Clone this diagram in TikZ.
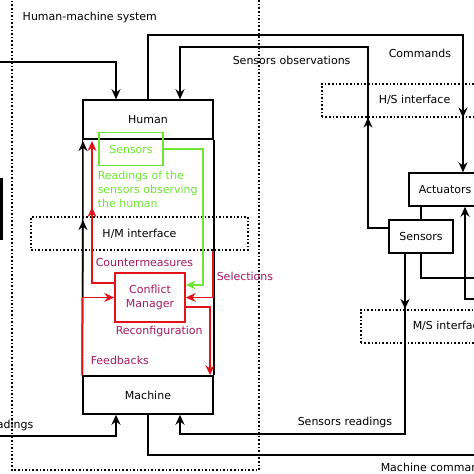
\documentclass[tikz,border=0pt]{standalone}
\usepackage{fontspec}
\setmainfont{DejaVu Sans}
\usetikzlibrary{arrows.meta}
\definecolor{cmred}{RGB}{225,20,25}
\definecolor{cmtext}{RGB}{165,25,95}
\definecolor{sensgreen}{RGB}{110,230,50}
\begin{document}
\begin{tikzpicture}[x=1pt, y=-1pt, font=\fontsize{11}{14}\selectfont,
    line width=1.5pt, >={Stealth[length=10pt,width=9pt]},
    block/.style={draw, inner sep=0pt},
    iface/.style={draw, dotted, line width=1.6pt, inner sep=0pt},
    txt/.style={inner sep=0pt, anchor=west}]
    \useasboundingbox (0,0) rectangle (474,474);
    \clip (0,0) rectangle (474,474);

    % Human-machine system
    \draw[dotted, line width=1.6pt] (12,-10) rectangle (259,470);
    \node[txt] (hmsys) at (22,17) {Human-machine system};

    % Human and machine blocks
    \node[block, minimum width=130pt, minimum height=39pt] (human) at (148,119.5) {Human};
    \node[block, minimum width=130pt, minimum height=38pt] (machine) at (148,395) {Machine};
    \draw (human.south west) -- (machine.north west);
    \draw (human.south east) -- (machine.north east);
    \draw[->] (machine.north west) -- (83,220);
    \draw[->] (machine.north west) -- (83,141);

    % Interfaces
    \node[iface, minimum width=217pt, minimum height=33pt] (hmif) at (139.5,233.5) {H/M interface};
    \node[iface, minimum width=200pt, minimum height=33pt, anchor=north west] (hsif) at (321,83) {};
    \node[txt] (hslabel) at (378,99.5) {H/S interface};
    \node[iface, minimum width=200pt, minimum height=33pt, anchor=north west] (msif) at (360,309) {};
    \node[txt] (mslabel) at (412,325.5) {M/S interface};

    % Conflict manager and human sensors
    \node[block, draw=cmred, text=cmtext, minimum width=70pt, minimum height=49pt, align=center] (cm) at (150,297.5) {Conflict\\Manager};
    \node[block, draw=sensgreen, text=sensgreen, minimum width=64pt, minimum height=33pt] (gsens) at (131,149) {Sensors};
    \node[txt, text=sensgreen, align=left] (gread) at (97,189) {Readings of the\\sensors observing\\the human};
    \draw[sensgreen, ->] (gsens.east) -| (203,285) -- (cm.east |- 0,285);

    % Red loops round the conflict manager
    \draw[cmred, ->] (cm.west |- 0,283) -| (92,207);
    \draw[cmred, ->] (cm.west |- 0,283) -| (92,141);
    \node[txt, text=cmtext] (cmeas) at (95,262) {Countermeasures};
    \draw[cmred, ->] (hmif.south -| 213,0) |- (cm.east);
    \node[txt, text=cmtext] (sel) at (216,276) {Selections};
    \draw[cmred, ->] (machine.north west) |- (cm.west);
    \node[txt, text=cmtext] (feed) at (90,360) {Feedbacks};
    \draw[cmred, ->] (cm.east |- 0,307) -| (machine.north -| 210,0);
    \node[txt, text=cmtext] (reconf) at (115,331) {Reconfiguration};

    % Actuators and sensors of the system
    \node[block, minimum height=33pt, inner xsep=10pt, anchor=west] (act) at (408,189.5) {Actuators};
    \node[block, minimum width=64pt, minimum height=33pt] (rsens) at (421,236.5) {Sensors};
    \draw (rsens.north) -- (rsens.north |- act.south);
    \draw (rsens.south) |- (480,278);
    \draw[->] (480,299) -| (act.south -| 465,0);

    % Commands
    \draw[->] (human.north -| 148,0) |- (463,35) -- (act.north -| 463,0);
    \draw[->] (463,35) -- (hsif.south -| 463,0);
    \node[txt] (cmds) at (388,53) {Commands};

    % Sensors observations
    \draw[->] (rsens.west |- 0,228) -| (368,47) -| (human.north -| 180,0);
    \draw[->] (rsens.west |- 0,228) -| (hsif.south -| 368,0);
    \node[txt] (sobs) at (232,60) {Sensors observations};

    % Sensors readings
    \draw[->] (rsens.south -| 405,0) -- (405,434) -| (machine.south -| 180,0);
    \draw[->] (rsens.south -| 405,0) -- (msif.north -| 405,0);
    \node[txt] (sread) at (297,422) {Sensors readings};

    % Machine commands
    \draw (machine.south -| 148,0) |- (480,455);
    \node[txt] (mcmds) at (380,467) {Machine commands};

    % Links leaving the picture on the left
    \draw[->] (0,62) -| (human.north -| 116,0);
    \draw[->] (0,436) -| (machine.south -| 116,0);
    \node[txt, anchor=east] (lread) at (34,425) {readings};
    \draw[line width=3pt] (1.5,178) -- (1.5,240);
\end{tikzpicture}
\end{document}
